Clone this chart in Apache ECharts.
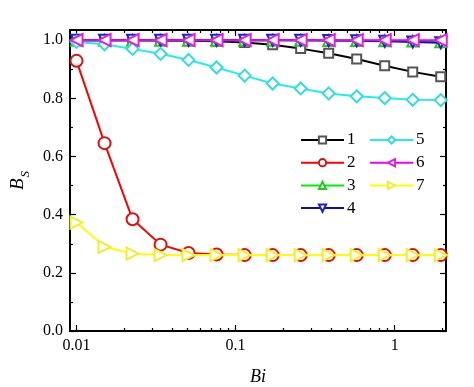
<!DOCTYPE html>
<html><head><meta charset="utf-8">
<script src="https://cdn.jsdelivr.net/npm/echarts@6/dist/echarts.min.js"></script>
<style>html,body{margin:0;padding:0;background:#fff}#c{width:474px;height:387px}</style>
</head><body><div id="c"></div>
<script>
// Bi values (x)
const bi = [0.01, 0.015, 0.0225, 0.03375, 0.0506, 0.0759, 0.1139, 0.1709, 0.2563, 0.3844, 0.5767, 0.865, 1.2975, 1.946];
const s1 = [1.0, 1.0, 1.0, 0.999, 0.998, 0.996, 0.992, 0.984, 0.971, 0.955, 0.935, 0.912, 0.891, 0.874];
const s2 = [0.929, 0.646, 0.384, 0.297, 0.268, 0.263, 0.261, 0.261, 0.261, 0.261, 0.261, 0.261, 0.261, 0.261];
const s3 = [1.0, 1.0, 1.0, 1.0, 1.0, 1.0, 1.0, 1.0, 1.0, 0.999, 0.999, 0.998, 0.997, 0.995];
const s4 = [1.0, 1.0, 1.0, 1.0, 1.0, 1.0, 1.0, 1.0, 1.0, 0.999, 0.998, 0.996, 0.994, 0.991];
const s5 = [0.994, 0.986, 0.970, 0.953, 0.932, 0.906, 0.878, 0.851, 0.834, 0.817, 0.807, 0.801, 0.795, 0.794];
const s6 = [1.0, 1.0, 1.0, 1.0, 1.0, 1.0, 1.0, 1.0, 1.0, 1.0, 1.0, 1.0, 1.0, 1.0];
const s7 = [0.373, 0.289, 0.266, 0.261, 0.261, 0.261, 0.261, 0.261, 0.261, 0.261, 0.261, 0.261, 0.261, 0.261];
const names = ['1', '2', '3', '4', '5', '6', '7'];
const xMajor = [0.01, 0.1, 1];
const xMinor = [0.02,0.03,0.04,0.05,0.06,0.07,0.08,0.09,0.2,0.3,0.4,0.5,0.6,0.7,0.8,0.9,2];
const yMajor = [0, 0.2, 0.4, 0.6, 0.8, 1.0];
const yMinor = [0.1, 0.3, 0.5, 0.7, 0.9];

const FONT = 'Liberation Serif';
const seriesData = [s1, s2, s3, s4, s5, s6, s7];
const colors = ['#000000', '#ff0000', '#00ee00', '#1010a0', '#22eeee', '#ee00ee', '#ffff00'];
const markerColors = ['#555555', '#dd1111', '#22cc22', '#2020cc', '#33dddd', '#dd22dd', '#eeee33'];
const symbols = ['emptyRect', 'emptyCircle', 'emptyTriangle', 'emptyTriangle', 'emptyDiamond', 'emptyTriangle', 'emptyTriangle'];
const rotates = [0, 0, 0, 180, 0, 90, -90];
const sizes = [9, 12, 11, 11, 12, 12, 12];

const xmin = 0.0091, xmax = 2.1, ymin = 0, ymax = 1.035;
function xAx(pos, ticks, len, labels) {
  return {
    type: 'log', logBase: 10, min: xmin, max: xmax, position: pos,
    axisLine: {show: true, onZero: false, lineStyle: {color: '#000', width: 2}},
    axisTick: {show: true, inside: true, length: len, customValues: ticks, lineStyle: {color: '#000', width: 1.2}},
    axisLabel: labels ? {show: true, customValues: xMajor, margin: 7, fontFamily: FONT, fontSize: 16, color: '#000',
      formatter: v => (v < 0.05 ? '0.01' : v < 0.5 ? '0.1' : '1')} : {show: false},
    splitLine: {show: false}, minorTick: {show: false}
  };
}
function yAx(pos, ticks, len, labels) {
  return {
    type: 'value', min: ymin, max: ymax, position: pos,
    axisLine: {show: true, onZero: false, lineStyle: {color: '#000', width: 2}},
    axisTick: {show: true, inside: true, length: len, customValues: ticks, lineStyle: {color: '#000', width: 1.2}},
    axisLabel: labels ? {show: true, customValues: yMajor, margin: 7, fontFamily: FONT, fontSize: 16, color: '#000',
      formatter: v => v.toFixed(1)} : {show: false},
    splitLine: {show: false}
  };
}
const xAxes = [xAx('bottom', xMajor, 6, true), xAx('bottom', xMinor, 3, false), xAx('top', xMajor, 6, false), xAx('top', xMinor, 3, false)];
xAxes[0].name = 'Bi';
xAxes[0].nameLocation = 'middle';
xAxes[0].nameGap = 37;
xAxes[0].nameTextStyle = {fontFamily: FONT, fontSize: 18, fontStyle: 'italic', color: '#000'};
const yAxes = [yAx('left', yMajor, 6, true), yAx('left', yMinor, 3, false), yAx('right', yMajor, 6, false), yAx('right', yMinor, 3, false)];
yAxes[0].name = '{b|B}{s|S}';
yAxes[0].nameLocation = 'middle';
yAxes[0].nameRotate = 90;
yAxes[0].nameGap = 42;
yAxes[0].nameTextStyle = {rich: {
  b: {fontFamily: FONT, fontSize: 19, fontStyle: 'italic', color: '#000', verticalAlign: 'bottom'},
  s: {fontFamily: FONT, fontSize: 13, fontStyle: 'italic', color: '#000', verticalAlign: 'bottom', padding: [0, 0, -5, 1]}
}};

const series = names.map((n, i) => ({
  name: n, type: 'line', xAxisIndex: 0, yAxisIndex: 0,
  data: bi.map((x, j) => [x, seriesData[i][j]]),
  symbol: symbols[i], symbolRotate: rotates[i], symbolSize: sizes[i],
  lineStyle: {color: colors[i], width: 2},
  itemStyle: {color: markerColors[i], borderWidth: 1.2},
  z: 2 + i, animation: false
}));

const legendCommon = {orient: 'vertical', itemWidth: 43, itemHeight: 9, itemGap: 5.7, padding: 0,
  textStyle: {fontFamily: FONT, fontSize: 17, color: '#000', padding: [0, 0, 0, -2]}, selectedMode: false};
const chart = echarts.init(document.getElementById('c'), null, {renderer: 'canvas'});
chart.setOption({
  backgroundColor: '#fff',
  animation: false,
  grid: {left: 70, right: 28, top: 30, bottom: 56, containLabel: false, outerBoundsMode: 'none'},
  xAxis: xAxes,
  yAxis: yAxes,
  legend: [
    Object.assign({left: 300, top: 131.5, data: ['1', '2', '3', '4']}, legendCommon),
    Object.assign({left: 369, top: 131.5, data: ['5', '6', '7']}, legendCommon)
  ],
  series: series
});
</script></body></html>
